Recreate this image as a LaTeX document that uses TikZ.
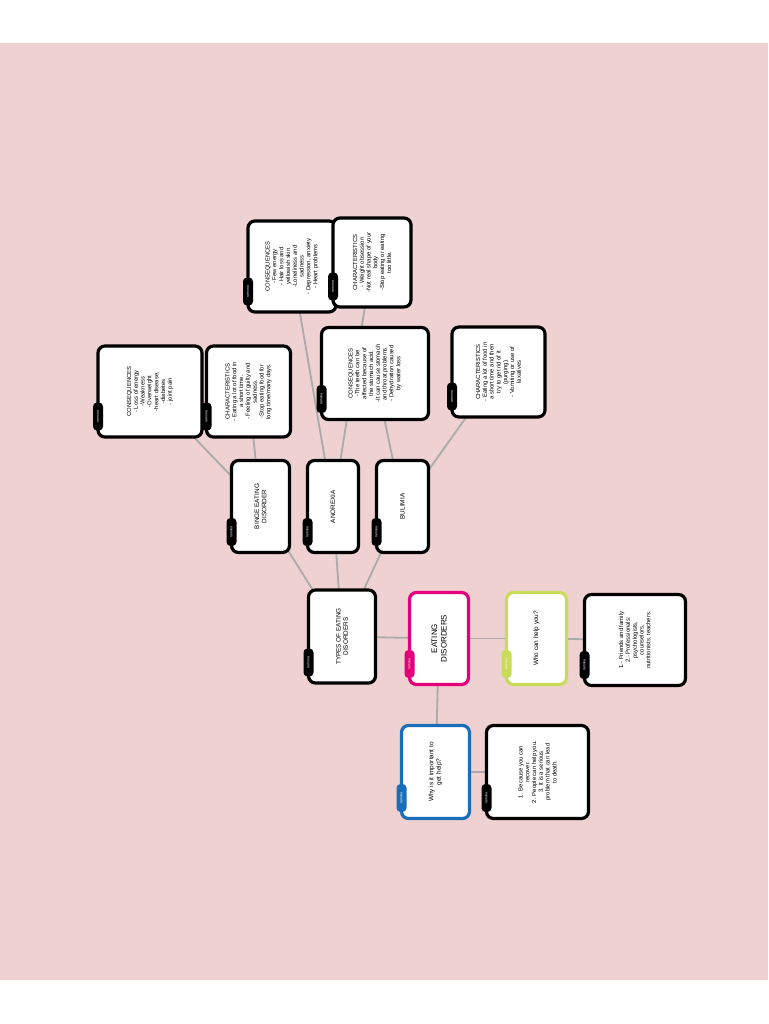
\documentclass[tikz,border=0pt]{standalone}
\usepackage{fontspec}
\setmainfont{Liberation Sans}
\usetikzlibrary{backgrounds}
\definecolor{bgpink}{RGB}{239,209,209}
\definecolor{edgegray}{RGB}{170,170,170}
\definecolor{magentaC}{RGB}{228,0,124}
\definecolor{limeC}{RGB}{200,220,90}
\definecolor{blueC}{RGB}{25,110,185}
\pgfdeclarelayer{back}
\pgfsetlayers{back,background,main}
\tikzset{
  cardbox/.style={draw, fill=white, line width=3.2pt, rounded corners=7pt, rotate=90,
    align=center, inner sep=1pt, font=\fontsize{5.9}{6.8}\selectfont},
  titlefont/.style={font=\fontsize{6.4}{7.4}\selectfont},
  tabpill/.style={rotate=90, rounded corners=4pt, minimum width=28pt, minimum height=10pt,
    inner sep=0pt, text=white, font=\fontsize{3.4}{3.8}\selectfont},
  link/.style={draw=edgegray, line width=1.8pt},
}
% #1 extra style, #2 name, #3 cx, #4 cy, #5 w, #6 h, #7 colour, #8 text
\newcommand\mycard[8][]{%
  \node[cardbox, draw=#7, minimum width=#6pt-3pt, minimum height=#5pt-3pt, #1] (#2) at (#3,#4) {#8};
  \node[tabpill, fill=#7] (#2-tab) at ({#3-#5/2+1.5},{#4+#6/2-22}) {ramona};
}
\begin{document}
\begin{tikzpicture}[x=1pt,y=-1pt]
\begin{pgfonlayer}{back}
  \fill[white] (0,0) rectangle (768,1024);
  \fill[bgpink] (0,43) rectangle (768,980);
\end{pgfonlayer}
\useasboundingbox (0,0) rectangle (768,1024);

\mycard{consA}{292}{266.5}{91}{94}{black}{CONSEQUENCES\\- Few energy\\- Hair loss and\\yellowish skin\\-Loneliness and\\sadness\\- Depression, anxiety\\- Heart problems}
\mycard{charA}{372}{262.5}{81}{92}{black}{CHARACTERISTICS\\- Weight obsession\\-Not real shape of your\\body\\-Stop eating or eating\\too little.}
\mycard{consB}{150}{391.5}{107}{94}{black}{CONSEQUENCES\\- Loss of energy\\-Weakness\\-Overweight\\-heart disease,\\-diabetes\\- joint pain}
\mycard{charB}{248.5}{391.5}{87}{94}{black}{CHARACTERISTICS\\- Eating a lot of food in\\a short time.\\- Feeling of guilty and\\sadness.\\-Stop eating food for\\long time/many days.}
\mycard{consC}{375}{373.5}{110}{95}{black}{CONSEQUENCES\\-The teeth can be\\affected because of\\the stomach acid.\\-It can cause stomach\\and throat problems.\\- Dehydration caused\\by water loss}
\mycard{charC}{498.5}{372}{96}{93}{black}{CHARACTERISTICS\\- Eating a lot of food in\\a short time and then\\try to get rid of it\\(purging).\\- Vomiting or use of\\laxatives}
\mycard[titlefont]{binge}{260.5}{506.5}{61}{95}{black}{BINGE EATING\\DISORDER}
\mycard[titlefont]{anorexia}{333}{506.5}{54}{95}{black}{ANOREXIA}
\mycard[titlefont]{bulimia}{402.5}{506.5}{55}{95}{black}{BULIMIA}
\mycard[titlefont]{types}{342}{636.5}{70}{96}{black}{TYPES OF EATING\\DISORDERS}
\mycard[font=\fontsize{8}{9.5}\selectfont]{eating}{439}{638.5}{62}{95}{magentaC}{EATING\\DISORDERS}
\mycard[titlefont]{who}{536.5}{638.5}{63}{95}{limeC}{Who can help you?}
\mycard{whoans}{635}{640}{104}{94}{black}{1.- Friends and family\\2.- Professionals:\\psychologists,\\counselors,\\nutritionists, teachers.}
\mycard[titlefont]{why}{435.5}{772}{71}{96}{blueC}{Why is it important to\\get help?}
\mycard{whyans}{537.5}{772}{105}{96}{black}{1. Because you can\\recover.\\2. People can help you.\\3. It is a serious\\problem that can lead\\to death.}

\begin{pgfonlayer}{background}
  \draw[link] (eating.center) -- (types.center);
  \draw[link] (eating.center) -- (who.center);
  \draw[link] (eating.center) -- (why.center);
  \draw[link] (who.center) -- (whoans.center);
  \draw[link] (why.center) -- (whyans.center);
  \draw[link] (types.center) -- (binge.center);
  \draw[link] (types.center) -- (anorexia.center);
  \draw[link] (types.center) -- (bulimia.center);
  \draw[link] (binge.center) -- (consB.center);
  \draw[link] (binge.center) -- (charB.center);
  \draw[link] (anorexia.center) -- (consA.center);
  \draw[link] (anorexia.center) -- (charA.center);
  \draw[link] (bulimia.center) -- (consC.center);
  \draw[link] (bulimia.center) -- (charC.center);
\end{pgfonlayer}
\end{tikzpicture}
\end{document}
